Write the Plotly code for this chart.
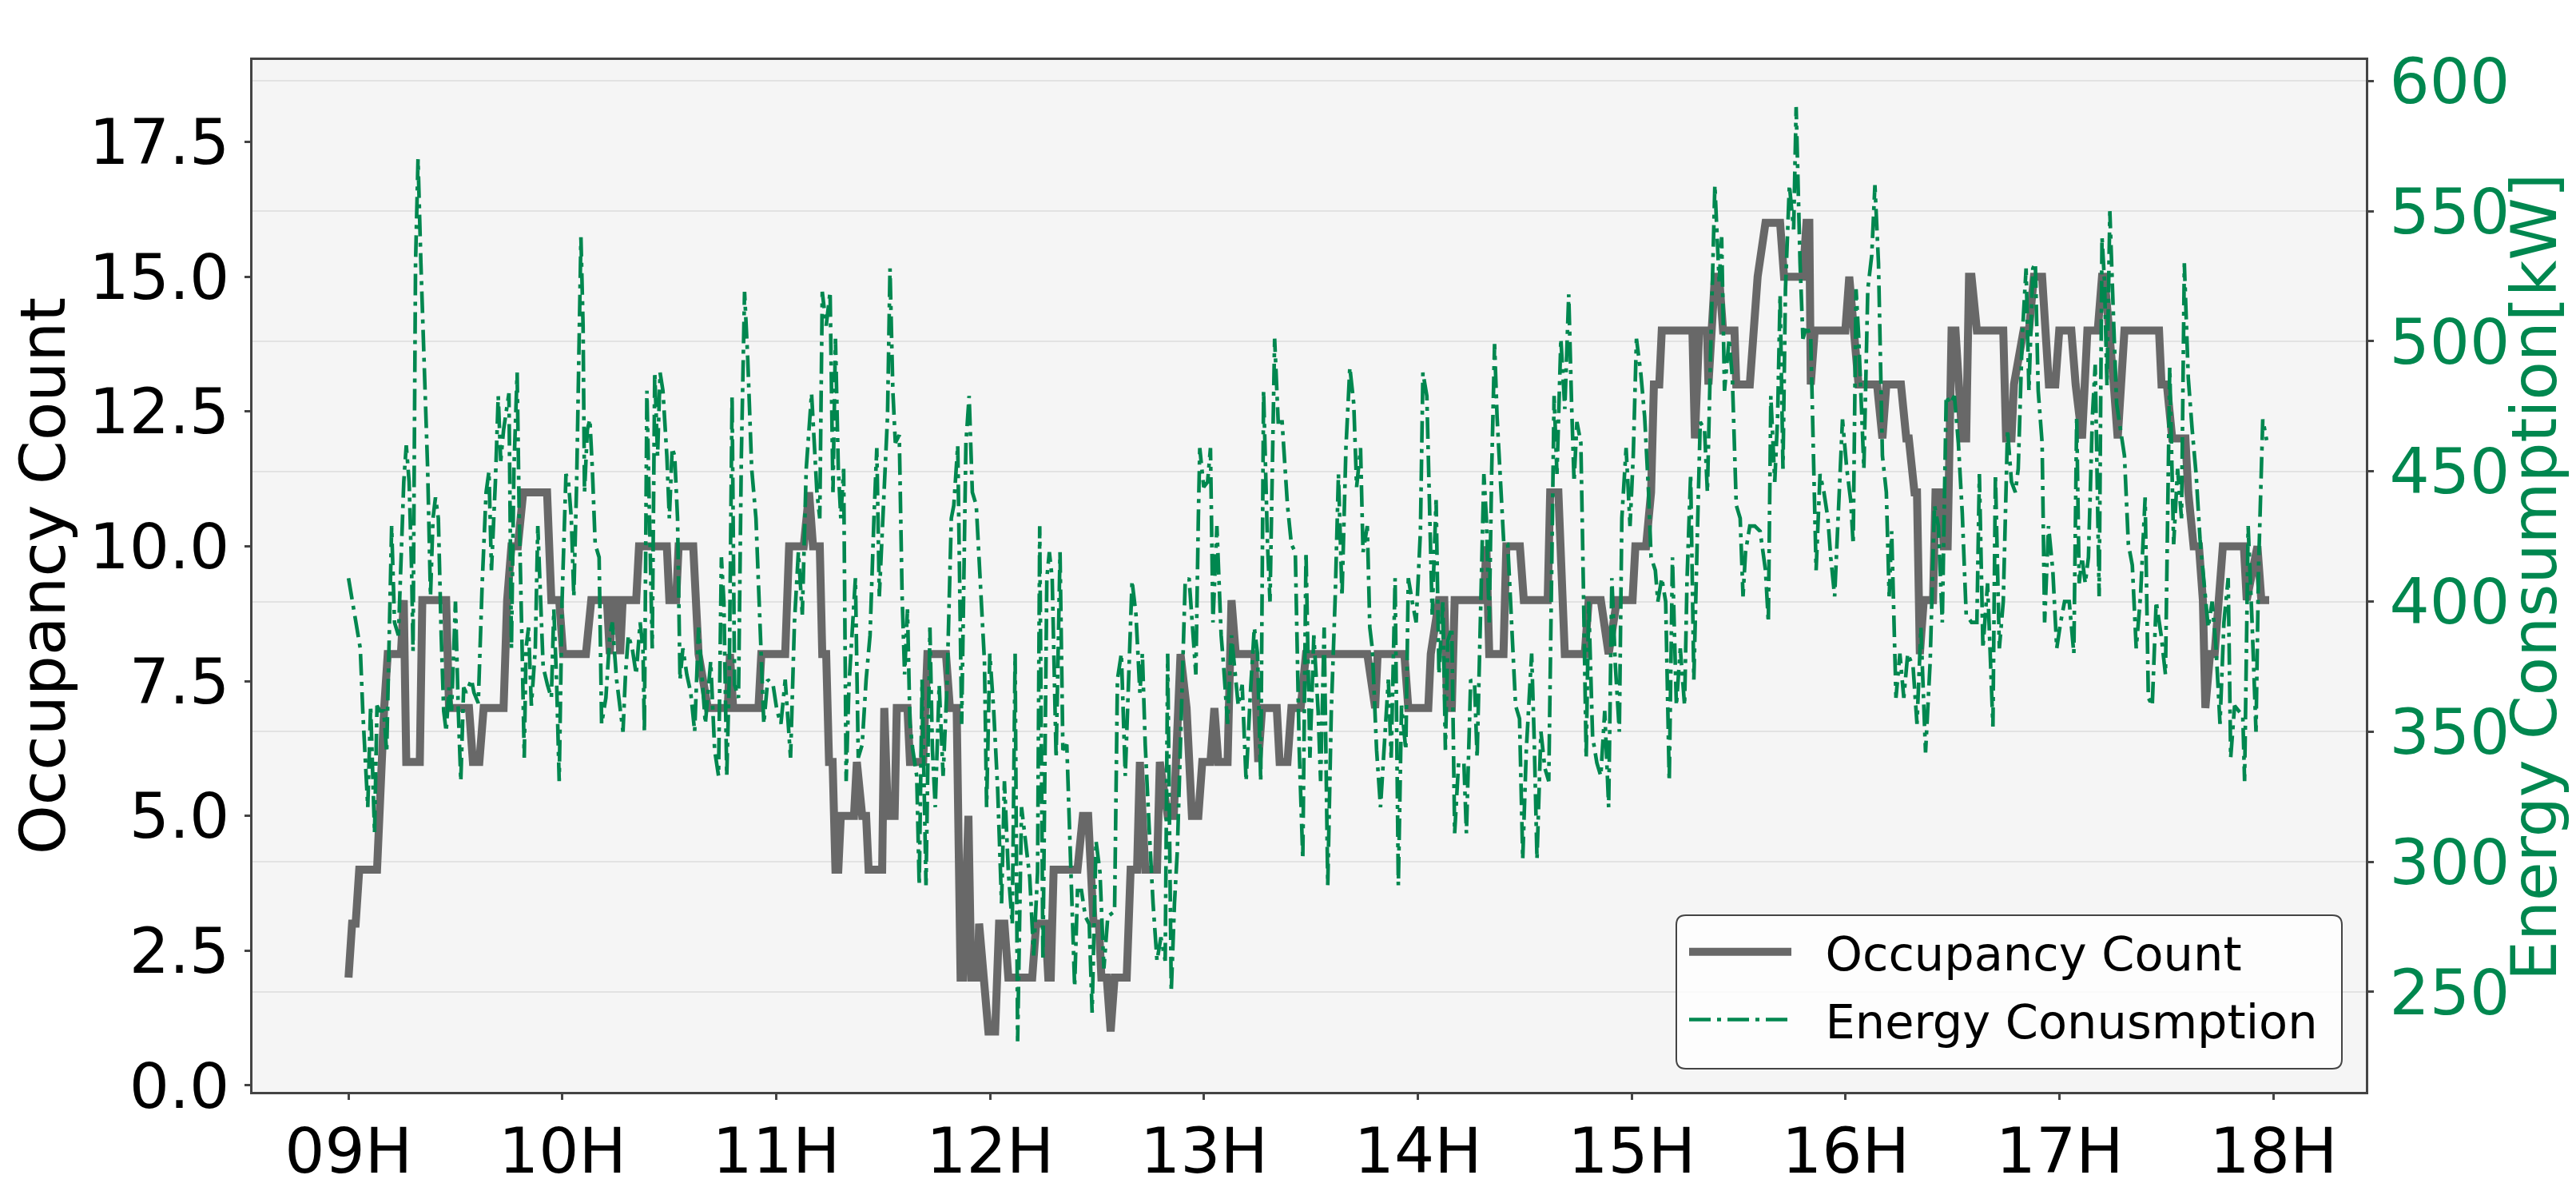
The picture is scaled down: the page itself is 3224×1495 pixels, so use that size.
import plotly.graph_objects as go

# ---------------- data (minutes after 09:00) ----------------
occ_min = [0, 1, 2, 3, 8, 9, 10, 11, 14.7, 15.5, 16.2, 20, 20.7, 27.4, 28.2, 33.8, 34.9, 36.7, 37.9, 43.5,
           44.5, 45.7, 47.5, 49, 55.7, 56.9, 59.1, 60.2, 66.6, 68.1, 72.5, 73.3, 74, 75.5, 76.2, 76.9,
           80.7, 81.5, 89.3, 90, 91.9, 92.6, 96.7, 98.2, 100.8, 106.4, 107, 107.9, 115, 115.8, 122.5,
           123.6, 127.7, 129.2, 130.3, 132.2, 132.9, 134, 134.8, 135.8, 136.6, 137.4, 138.1, 141.8,
           142.6, 144.1, 145.2, 145.9, 149.7, 150.3, 151.3, 153.2, 153.8, 156.8, 157.5, 161.2, 162.4,
           167.6, 168.7, 170.6, 171.7, 172.4, 173.9, 174.7, 176.5, 176.9, 178, 179.5, 181.4, 182.5,
           184, 185.1, 191.8, 192.9, 195.5, 196.3, 197, 197.8, 204.5, 206, 207.5, 209, 210.5, 211.2,
           212.7, 213.8, 214.9, 218.3, 219.4, 221.2, 222, 223.5, 226.8, 227.6, 229.8, 231.5, 233.4,
           235.1, 236.6, 238.4, 239.5, 241.8, 242.9, 244, 246.6, 247.7, 248.9, 254.1, 255.2, 256.3,
           260.4, 261.2, 263.4, 264.5, 267.1, 268.6, 285.8, 288, 288.7, 296.2, 297.3, 302.9, 303.6,
           305.9, 307.4, 308.2, 309.5, 310.3, 318.5, 319.2, 320, 324, 324.8, 328.6, 329.7, 336.4,
           337.1, 339.4, 341.2, 346.8, 347.9, 351.3, 353.5, 355.8, 360.2, 361, 364, 365.4, 366.2,
           367.7, 368.4, 377, 377.7, 378.9, 381.1, 381.5, 383.3, 384.5, 385.6, 388.8, 389.3, 393.1,
           395.3, 397.5, 401.6, 402.7, 408, 409, 409.8, 410.2, 411.3, 419.9, 421, 422.4, 423.6,
           428.8, 430.3, 431.4, 435.5, 437, 437.7, 439.3, 440, 440.8, 441.9, 444.5, 445.2, 446.7,
           447.5, 448.6, 449.7, 450.8, 452.7, 453.8, 454.6, 455.3, 456.8, 464.2, 465, 466.5, 467.2,
           469.9, 471.4, 472.8, 475.1, 477, 478.8, 479.9, 483.3, 484.5, 485.9, 486.3, 487.8, 490.7,
           491.9, 492.6, 495.2, 496.3, 498.2, 507.9, 508.6, 510.1, 511.6, 515.3, 516.1, 517.6,
           519.1, 520.2, 520.9, 522.2, 523.5, 524.7, 525.8, 531.7, 532.5, 535.5, 536.6, 538.8]
occ_count = [2, 3, 3, 4, 4, 6, 7, 8, 8, 9, 6, 6, 9, 9, 7, 7, 6, 6, 7, 7,
             9, 10, 10, 11, 11, 9, 9, 8, 8, 9, 9, 8, 9, 9, 8, 9,
             9, 10, 10, 9, 9, 10, 10, 8, 7, 7, 8, 7, 7, 8, 8,
             10, 10, 11, 10, 10, 8, 8, 6, 6, 4, 4, 5, 5,
             6, 5, 5, 4, 4, 7, 5, 5, 7, 7, 6, 6, 8,
             8, 7, 7, 2, 2, 5, 2, 2, 3, 2, 1, 1, 3,
             3, 2, 2, 3, 3, 2, 2, 4, 4, 5, 5, 3, 3, 2,
             2, 1, 2, 2, 4, 4, 6, 4, 4, 6, 5, 5, 8,
             7, 5, 5, 6, 6, 7, 6, 6, 9, 8, 8, 6, 7,
             7, 6, 6, 7, 7, 8, 8, 7, 8, 8, 7, 7, 8,
             9, 9, 7, 7, 9, 9, 10, 8, 8, 10, 10, 9, 9,
             11, 11, 8, 8, 9, 9, 8, 9, 9, 10, 10, 11, 13,
             13, 14, 14, 12, 14, 14, 13, 15, 15, 14, 14, 13, 13,
             15, 16, 16, 15, 15, 16, 16, 13, 14, 14, 15, 14, 13,
             13, 12, 13, 13, 12, 12, 11, 11, 8, 9, 9, 11, 11,
             10, 10, 14, 14, 12, 12, 15, 15, 14, 14, 12, 12, 13,
             14, 14, 15, 15, 13, 13, 14, 14, 13, 12, 12, 14, 14,
             15, 15, 13, 12, 14, 14, 13, 13, 12, 12, 11, 10,
             10, 9, 7, 8, 8, 9, 10, 10, 9, 10, 9, 9]

energy_min = [0, 2.5, 3.3, 4, 4.7, 5.4, 6.2, 6.9, 7.3, 8.0, 8.8, 9.9, 10.7, 12.1, 12.9, 14, 15.5, 16.2, 17,
              17.7, 18.1, 18.8, 19.5, 20.3, 21.1, 22.2, 23, 23.7, 24.4, 25.2, 26, 26.7, 27.4, 28.2, 28.9,
              30, 30.8, 31.5, 32.3, 33, 34.5, 35.2, 36.4, 37.5, 38.6, 39.4, 40.1, 41.2, 42, 42.7, 43.5,
              45, 45.7, 46.4, 47.3, 47.9, 48.7, 49.3, 49.8, 50.5, 51.3, 52.4, 53.1, 53.9, 54.6, 55.8,
              56.9, 57.6, 58.4, 59.1, 59.9, 61, 61.7, 62.5, 63.2, 64, 64.7, 65.2, 65.8, 66.2, 67, 67.7,
              68.4, 69.2, 70.3, 71.0, 72.2, 73.3, 74, 75.2, 77, 77.7, 78.5, 79.6, 80.7, 81.8, 82.6, 83,
              83.7, 84.4, 85.2, 85.9, 86.7, 87.4, 88.2, 89.3, 90, 90.8, 91.5, 92.3, 93, 93.8, 94.9, 96,
              97.1, 98.2, 99.4, 100.1, 101.6, 102.7, 103.8, 104.6, 105.3, 106.1, 106.8, 107.6, 108.3,
              109.4, 110.2, 111.1, 112, 113.1, 114.3, 115.4, 116.5, 117.6, 119.1, 120.2, 121.3, 122.5,
              124, 125.1, 126.2, 127.3, 128.4, 129.9, 130.7, 131.4, 132.2, 132.9, 134, 135.1, 135.9,
              136.6, 137.4, 138.1, 138.9, 139.6, 140.4, 141.5, 142.2, 143, 144.1, 145.2, 146.3, 147.4,
              148.2, 148.9, 150, 151.2, 151.9, 152.7, 153.4, 154.5, 155.3, 156, 156.8, 157.5, 158.3,
              159.4, 160.1, 160.9, 162, 163.1, 163.8, 164.6, 165.7, 166.8, 167.9, 169.1, 169.8, 170.9,
              172, 173.2, 174.1, 175, 176.1, 177.3, 178.4, 179, 179.9, 181, 182.1, 183.2, 184, 185.1,
              186.2, 187, 187.7, 188.8, 189.9, 191.1, 192.2, 193.3, 193.9, 194.8, 195.9, 196.6, 197.4,
              198.5, 199.6, 200.4, 201.5, 202.6, 203.7, 204.5, 205.6, 206.7, 207.8, 208.6, 209.7, 210.8,
              211.9, 213, 214.9, 215.7, 216.8, 217.9, 219, 219.8, 220.9, 222, 222.7, 223.5, 224.6, 225.7,
              226.8, 227.9, 229.1, 229.8, 230.8, 231.7, 232.5, 233.6, 234.7, 235.8, 236.6, 237.7, 238.4,
              238.8, 239.9, 241, 241.8, 242.5, 243.6, 244.8, 245.5, 246.6, 247.7, 249.6, 250.7, 251.8,
              253, 254.1, 255, 255.9, 256.7, 257.8, 258.5, 259.3, 259.8, 260.8, 261.9, 263.4, 264.5,
              265.6, 266.7, 267.7, 268.6, 269.7, 270.8, 272, 272.7, 273.7, 274.7, 275.7, 276.8, 277.7,
              278.7, 279.8, 280.9, 282, 282.8, 283.9, 284.6, 285.8, 286.5, 287.2, 288.4, 289.5, 290.6,
              291.7, 292.5, 293.6, 294.5, 295.4, 296.6, 297.3, 298.4, 299.5, 300.7, 301.4, 302.5, 303.3,
              304, 305.1, 305.9, 307, 307.7, 308.4, 309.5, 310.3, 311.4, 312.9, 313.6, 314.8, 315.9,
              316.6, 317.7, 318.5, 319.2, 320, 320.7, 321.5, 322.2, 322.9, 324.1, 325.2, 326.3, 327.4,
              328.5, 329.4, 330.4, 331.9, 332.6, 333.4, 334.5, 335.6, 336.7, 337.5, 338.2, 339, 340.1,
              341.2, 342.3, 343.1, 343.8, 344.6, 345.7, 346.4, 347.2, 347.9, 349, 350.2, 351.3, 352.4,
              353.5, 354.4, 355.4, 356.5, 357.2, 358.4, 359.5, 360.4, 361.3, 362.5, 363.6, 364.7, 365.4,
              366.6, 367.3, 368.4, 369.5, 370.5, 371.4, 372.5, 373.6, 374.8, 375.5, 376.5, 377.4, 378.5,
              379.2, 380.4, 381.2, 382.2, 383.3, 384.5, 385.2, 386, 387.3, 388.2, 389.3, 390.4, 391.2,
              391.9, 393.1, 394.5, 396, 397.5, 398.3, 399, 400.1, 400.9, 401.6, 402.4, 403.1, 404.2,
              405.4, 406.1, 407.2, 408, 409.1, 410.2, 410.9, 411.7, 412.8, 413.9, 415, 415.8, 416.9,
              418, 419.1, 420.3, 421.4, 422.1, 422.9, 423.6, 424.4, 425.1, 426.2, 427.3, 428.2, 429.2,
              430.3, 431.4, 432.2, 432.9, 434.1, 435.2, 436.3, 437.4, 438.9, 440, 441.1, 442.4, 443.7,
              444.9, 446, 447.1, 448.2, 449.3, 450.5, 451.6, 452.7, 453.8, 455.3, 456.8, 457.5, 458.5,
              459.8, 460.5, 461.3, 462, 463.1, 464.2, 465.4, 466.5, 467.6, 468.4, 469.5, 470.6, 471.4,
              472.5, 473.2, 474, 475.1, 475.8, 476.9, 478.1, 479.2, 480.3, 481.4, 482.7, 484, 484.8,
              485.5, 486.3, 487.2, 488.1, 489.2, 490, 491.1, 491.9, 492.6, 493.3, 494.1, 495.2, 496,
              497.1, 498.2, 499.3, 500.4, 501.5, 502.7, 504, 504.9, 506, 507.1, 508.5, 509.7, 510.9,
              512, 513.1, 514.2, 515, 516.1, 517.2, 518.3, 519.4, 520.6, 521.7, 522.8, 523.9, 525,
              526.1, 527.3, 528, 529.1, 530.2, 531.4, 531.9, 532.9, 534, 535.1, 535.8, 537, 538.1]
energy_kw = [409, 390, 382, 358, 336, 321, 360, 333, 311, 360, 358, 358, 342, 429, 392, 387, 446, 460, 446,
             412, 381, 530, 570, 530, 493, 451, 402, 432, 440, 432, 387, 358, 350, 367, 358,
             400, 358, 331, 367, 365, 370, 365, 361, 407, 442, 450, 412, 446, 479, 454, 466,
             480, 382, 451, 488, 432, 382, 340, 382, 390, 360, 382, 429, 402, 375, 368,
             363, 397, 368, 331, 400, 449, 446, 432, 402, 446, 501, 540, 506, 442, 466, 470,
             451, 422, 417, 353, 363, 387, 392, 370, 350, 372, 387, 382, 372, 392, 382, 350,
             481, 432, 382, 488, 456, 488, 481, 456, 432, 459, 456, 432, 370, 382, 372, 365,
             350, 390, 368, 353, 377, 343, 333, 417, 400, 333, 370, 479, 368,
             363, 456, 519, 493, 451, 432, 390, 353, 370, 368, 358, 353, 370,
             340, 392, 419, 395, 451, 480, 459, 442, 432, 519, 506, 519, 442,
             501, 451, 432, 451, 331, 368, 392, 409, 340, 345, 370, 387, 432,
             459, 402, 437, 471, 528, 481, 461, 464, 402, 372, 397, 353, 343,
             333, 291, 370, 291, 390, 343, 321, 368, 333, 368, 432, 437, 460,
             353, 461, 479, 442, 437, 407, 377, 321, 380, 358, 328, 284, 331, 296,
             276, 380, 231, 321, 308, 294, 264, 296, 429, 262, 409, 419, 409,
             340, 419, 343, 345, 301, 252, 289, 289, 279, 276, 242, 308, 296,
             259, 279, 281, 370, 380, 333, 382, 408, 395, 365, 380, 345, 313, 284,
             262, 271, 262, 380, 250, 284, 304, 358, 407, 409, 392, 372, 432,
             459, 444, 446, 459, 392, 429, 387, 375, 353, 387, 360, 368, 331,
             365, 390, 380, 331, 481, 422, 400, 456, 501, 469, 469, 437, 422,
             419, 343, 301, 419, 340, 387, 358, 331, 390, 291, 358, 402, 449,
             402, 459, 490, 476, 444, 459, 419, 429, 390, 382, 343, 321, 345,
             370, 340, 409, 291, 360, 343, 409, 400, 392, 427, 488, 479, 432,
             395, 439, 372, 400, 343, 385, 390, 311, 338, 338, 311, 370, 368,
             340, 402, 449, 432, 392, 451, 499, 471, 451, 422, 422, 390, 360,
             355, 301, 343, 380, 348, 301, 350, 336, 331, 400, 479, 449, 501,
             474, 518, 476, 446, 469, 461, 407, 340, 400, 348, 338, 333, 358,
             321, 409, 375, 350, 432, 459, 429, 456, 501, 488, 471, 442, 417,
             412, 400, 409, 400, 331, 417, 360, 382, 360, 409, 449, 370, 432,
             469, 466, 442, 501, 560, 523, 540, 481, 501, 486, 437, 432, 402,
             419, 429, 429, 427, 412, 392, 479, 446, 471, 518, 451, 520, 560,
             543, 590, 530, 501, 506, 501, 464, 412, 449, 442, 432, 417, 402,
             437, 470, 451, 439, 422, 520, 503, 476, 451, 520, 533, 560, 530,
             456, 442, 402, 427, 363, 380, 363, 380, 375, 353, 390, 342, 377,
             437, 429, 392, 479, 476, 479, 461, 434, 395, 392, 392, 449, 382,
             407, 382, 352, 449, 382, 400, 466, 446, 442, 451, 501, 528, 481,
             528, 530, 481, 461, 392, 429, 412, 382, 392, 400, 400, 380, 471,
             407, 417, 407, 417, 471, 491, 402, 540, 523, 483, 550, 506, 476,
             466, 456, 422, 414, 382, 402, 440, 363, 360, 400, 387, 372, 490,
             422, 451, 432, 530, 486, 466, 449, 424, 407, 390, 400, 382, 353,
             392, 409, 340, 360, 358, 356, 331, 429, 392, 350, 412, 470, 462]

hour_ticks = [9, 10, 11, 12, 13, 14, 15, 16, 17, 18]
hour_labels = ["09H", "10H", "11H", "12H", "13H", "14H", "15H", "16H", "17H", "18H"]

GREEN = "#00874f"
GREY = "#686868"
FONT = "DejaVu Sans"
NB = "\u00a0\u00a0"

# plot-area geometry in pixels
W_FIG, H_FIG = 3224, 1495
PL, PR, PT, PB = 308, 2953, 67, 1358
PW, PH = PR - PL, PB - PT


def px_x(x):
    return (x - PL) / PW


def px_y(y):
    return (PB - y) / PH


occ_x = [9 + m / 60 for m in occ_min]
en_x = [9 + m / 60 for m in energy_min]

fig = go.Figure()
fig.add_trace(go.Scatter(x=occ_x, y=occ_count, mode="lines", name=NB + "Occupancy Count",
                         legendgroup="a", line=dict(color=GREY, width=10), yaxis="y"))
fig.add_trace(go.Scatter(x=en_x, y=energy_kw, mode="lines", name=NB + "Energy Conusmption",
                         legendgroup="b", line=dict(color=GREEN, width=4.6, dash="27px,8px,5px,8px"),
                         yaxis="y2"))

axis_common = dict(showline=True, linecolor="#444444", linewidth=2.6, ticks="outside",
                   ticklen=7, tickwidth=2.6, tickcolor="#444444", zeroline=False)

# rounded legend frame (paper coordinates)
lx0, lx1, ly0, ly1 = px_x(2090), px_x(2923), px_y(1329), px_y(1137)
rx, ry = 12 / PW, 12 / PH
frame_path = (f"M{lx0+rx},{ly0} L{lx1-rx},{ly0} Q{lx1},{ly0} {lx1},{ly0+ry} "
              f"L{lx1},{ly1-ry} Q{lx1},{ly1} {lx1-rx},{ly1} L{lx0+rx},{ly1} "
              f"Q{lx0},{ly1} {lx0},{ly1-ry} L{lx0},{ly0+ry} Q{lx0},{ly0} {lx0+rx},{ly0} Z")

fig.update_layout(
    width=W_FIG, height=H_FIG,
    margin=dict(l=PL, r=W_FIG - PR, t=PT, b=H_FIG - PB),
    paper_bgcolor="white",
    plot_bgcolor="#f5f5f5",
    font=dict(family=FONT, color="black"),
    xaxis=dict(range=[8.551, 18.432], tickvals=hour_ticks, ticktext=hour_labels,
               tickfont=dict(size=79, family=FONT, color="black"), showgrid=False,
               mirror=True, ticklabelstandoff=-4, **axis_common),
    yaxis=dict(range=[-0.12, 19.02], tick0=0, dtick=2.5, tickformat=".1f",
               tickfont=dict(size=79, family=FONT, color="black"), showgrid=False,
               title=dict(text="Occupancy Count", font=dict(size=79, family=FONT, color="black"),
                          standoff=6),
               mirror=True, ticklabelstandoff=3, **axis_common),
    yaxis2=dict(range=[211.6, 608.1], tick0=0, dtick=50, overlaying="y", side="right",
                tickfont=dict(size=79, family=FONT, color=GREEN), showgrid=True,
                gridcolor="#e2e2e2", gridwidth=2,
                ticklabelstandoff=4, **axis_common),
    shapes=[dict(type="path", xref="paper", yref="paper", path=frame_path, layer="above",
                 fillcolor="rgba(255,255,255,0.8)", line=dict(color="#444444", width=2))],
    annotations=[dict(text="Energy Consumption[kW]", xref="paper", yref="paper",
                      x=px_x(3164), y=px_y(714), xanchor="center", yanchor="middle",
                      textangle=-90, showarrow=False,
                      font=dict(size=79, family=FONT, color=GREEN))],
    legend=dict(x=px_x(2101), y=px_y(1138), xanchor="left", yanchor="top",
                bgcolor="rgba(0,0,0,0)", borderwidth=0,
                font=dict(size=59, family=FONT, color="black"), itemwidth=128,
                tracegroupgap=5),
    showlegend=True,
)

fig.write_html("out.html")
